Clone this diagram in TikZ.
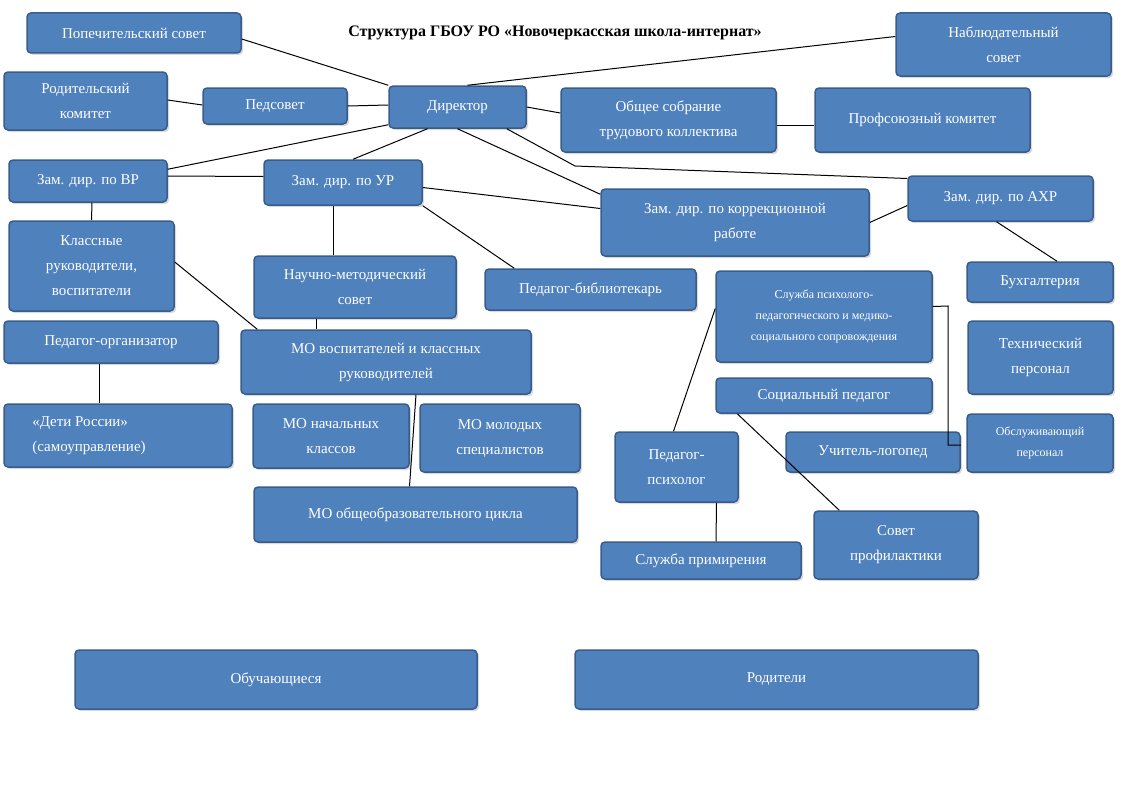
\documentclass[tikz,border=0pt]{standalone}
\usepackage{fontspec}
\setmainfont{Liberation Serif}
\usetikzlibrary{calc,shadows}
\definecolor{bfill}{HTML}{4F81BD}
\definecolor{bdraw}{HTML}{385D8A}
\tikzset{box/.style={draw=bdraw,line width=1.5pt,fill=bfill,rounded corners=4pt,text=white,align=center,inner sep=2pt,font=\fontsize{15}{25}\selectfont,drop shadow={shadow xshift=2pt,shadow yshift=-2pt,opacity=0.3}},
small/.style={font=\fontsize{12}{21}\selectfont},
ln/.style={draw=black,line width=1pt}}
\newcommand\bx[7][]{\node[box,#1,minimum width={(#5-#3)*1pt},minimum height={(#6-#4)*1pt}] (#2) at ({(#3+#5)/2},{(#4+#6)/2}) {#7};}
\begin{document}
\begin{tikzpicture}[x=1pt,y=-1pt]
\useasboundingbox (0,0) rectangle (1131,800);
\node[font=\fontsize{16}{19}\selectfont\bfseries] (title) at (555,33) {Структура ГБОУ РО «Новочеркасская школа-интернат»};
\bx{pop}{27}{13}{241}{53}{Попечительский совет}
\bx{nab}{896}{13}{1111}{76}{Наблюдательный\\совет}
\bx{rod}{4}{72}{167}{130}{Родительский\\комитет}
\bx{ped}{203}{88}{347}{124}{Педсовет}
\bx{dir}{389}{86}{526}{128}{Директор}
\bx{obs}{561}{88}{776}{152}{Общее собрание\\трудового коллектива}
\bx{prof}{815}{88}{1030}{152}{Профсоюзный комитет}
\bx{vr}{9}{160}{167}{202}{Зам. дир. по ВР}
\bx{ur}{264}{160}{422}{205}{Зам. дир. по УР}
\bx{kor}{601}{189}{869}{256}{Зам. дир. по коррекционной\\работе}
\bx{ahr}{908}{176}{1093}{221}{Зам. дир. по АХР}
\bx{kl}{9}{221}{174}{311}{Классные\\руководители,\\воспитатели}
\bx{nms}{254}{256}{456}{318}{Научно-методический\\совет}
\bx{bib}{485}{269}{696}{310}{Педагог-библиотекарь}
\bx[small]{sl}{716}{271}{932}{362}{Служба психолого-\\педагогического и медико-\\социального сопровождения}
\bx{buh}{967}{262}{1113}{302}{Бухгалтерия}
\bx{org}{4}{321}{218}{363}{Педагог-организатор}
\bx{mov}{241}{330}{531}{394}{МО воспитателей и классных\\руководителей}
\bx{teh}{968}{321}{1113}{394}{Технический\\персонал}
\bx{soc}{716}{378}{932}{413}{Социальный педагог}
\bx[align=left]{deti}{4}{404}{232}{467}{«Дети России»\\(самоуправление)\hspace*{58pt}}
\bx{nach}{253}{404}{409}{468}{МО начальных\\классов}
\bx{mol}{420}{404}{580}{472}{МО молодых\\специалистов}
\bx[small]{obsl}{967}{414}{1113}{472}{Обслуживающий\\персонал}
\bx{log}{786}{432}{960}{472}{Учитель-логопед}
\bx{psy}{615}{432}{738}{502}{Педагог-\\психолог}
\bx{obr}{254}{487}{577}{542}{МО общеобразовательного цикла}
\bx{prf}{814}{511}{978}{579}{Совет\\профилактики}
\bx{prim}{601}{542}{801}{579}{Служба примирения}
\bx{uch}{75}{650}{477}{709}{Обучающиеся}
\bx{rdt}{575}{650}{978}{709}{Родители}
\draw[ln] (pop.east) ++(0,6) -- (dir.north west);
\draw[ln] (nab.west) ++(0,-8) -- ($(dir.north)+(10,0)$);
\draw[ln] (rod.east) ++(0,-1) -- ($(ped.west)+(0,-1)$);
\draw[ln] (ped.east) -- ($(dir.west)+(0,-2)$);
\draw[ln] (dir.east) -- ($(obs.west)+(0,-7)$);
\draw[ln] (obs.east) ++(0,5) -- ($(prof.west)+(0,5)$);
\draw[ln] (dir.south west) ++(0,-4) -- ($(vr.north east)+(0,10)$);
\draw[ln] ($(dir.south)+(-30,0)$) -- ($(ur.north)+(10,0)$);
\draw[ln] ($(dir.south)+(0,0)$) -- ($(kor.north west)+(0,6)$);
\draw[ln] ($(dir.south east)+(-20,0)$) -- (575,166) -- ($(ahr.west)+(0,-20)$);
\draw[ln] (vr.east) ++(0,-5) -- ($(ur.west)+(0,-6)$);
\draw[ln] (ur.east) ++(0,5) -- ($(kor.west)+(0,-14)$);
\draw[ln] (ur.south east) -- ($(bib.north west)+(30,0)$);
\draw[ln] ($(ur.south)+(-10,0)$) -- ($(nms.north)+(-22,0)$);
\draw[ln] ($(vr.south)+(4,0)$) -- ($(kl.north)+(0,0)$);
\draw[ln] ($(kl.east)+(0,-4)$) -- ($(mov.north west)+(17,0)$);
\draw[ln] (kor.east) -- ($(ahr.west)+(0,7)$);
\draw[ln] (ahr.south) ++(-4,0) -- ($(buh.north)+(17,0)$);
\draw[ln] ($(nms.south)+(-39,0)$) -- ($(mov.north)+(-70,0)$);
\draw[ln] ($(org.south)+(-12,0)$) -- ($(deti.north)+(-19,0)$);
\draw[ln] ($(mov.south)+(30,0)$) -- ($(obr.north)+(-6,0)$);
\draw[ln] ($(sl.west)+(0,-8)$) -- ($(psy.north)+(-3,0)$);
\draw[ln] ($(sl.east)+(0,-10)$) -- (948,306) -- (948,445) -- ($(log.east)+(0,-7)$);
\draw[ln] ($(soc.south west)+(22,0)$) -- ($(prf.north west)+(26,0)$);
\draw[ln] ($(psy.south)+(40,0)$) -- ($(prim.north)+(15,0)$);
\end{tikzpicture}
\end{document}
